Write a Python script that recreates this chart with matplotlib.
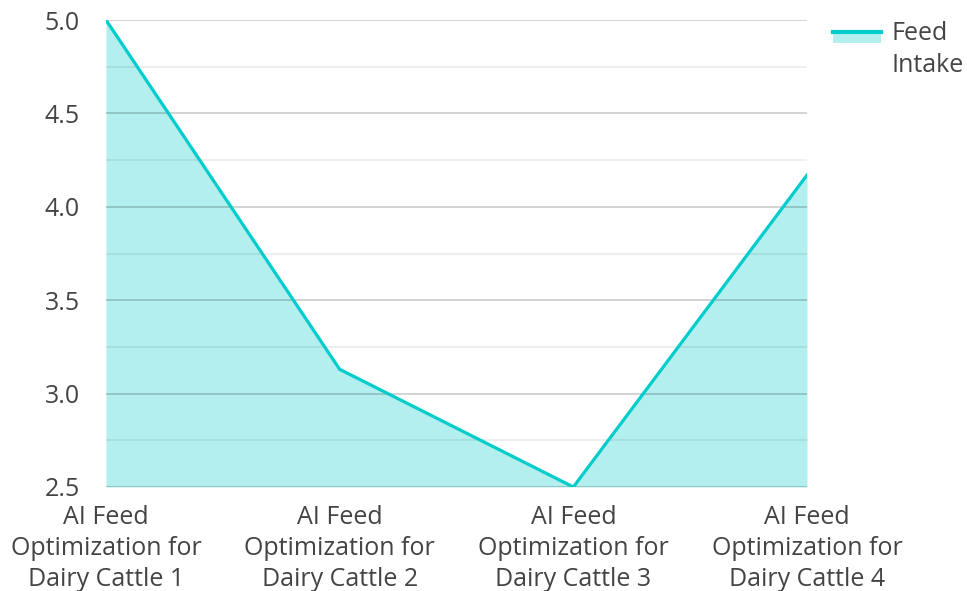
import matplotlib
matplotlib.use("Agg")
import matplotlib.pyplot as plt
from matplotlib.patches import Rectangle
from matplotlib.lines import Line2D

categories = ["AI Feed\nOptimization for\nDairy Cattle 1",
              "AI Feed\nOptimization for\nDairy Cattle 2",
              "AI Feed\nOptimization for\nDairy Cattle 3",
              "AI Feed\nOptimization for\nDairy Cattle 4"]
feed_intake = [5.0, 3.13, 2.5, 4.17]
series_name = "Feed\nIntake"
yticks = [2.5, 3.0, 3.5, 4.0, 4.5, 5.0]

plt.rcParams['font.family'] = ['Open Sans', 'DejaVu Sans']
line_color = "#00CCCC"
fill_color = "#b2efee"
text_color = "#444444"
W, H = 967, 591

fig = plt.figure(figsize=(W/100, H/100), dpi=100)
ax = fig.add_axes([106/W, 1 - 487/H, (807-106)/W, (487-20)/H])

x = list(range(len(categories)))
ax.fill_between(x, feed_intake, 2.5, color=fill_color, lw=0, zorder=1)
ax.plot(x, feed_intake, color=line_color, lw=2.3, zorder=3)

ax.set_xlim(0, len(categories) - 1)
ax.set_ylim(2.5, 5.0)
ax.set_yticks(yticks)
ax.set_yticklabels([f"{v:.1f}" for v in yticks])
ax.set_yticks([2.75, 3.25, 3.75, 4.25, 4.75], minor=True)
ax.set_xticks(x)
ax.set_xticklabels(categories, linespacing=1.32)

ax.grid(True, which='major', axis='y', color='#000000', alpha=0.2, lw=1.2, zorder=2)
ax.grid(True, which='minor', axis='y', color='#000000', alpha=0.08, lw=1.2, zorder=2)
ax.set_axisbelow(False)
for s in ax.spines.values():
    s.set_visible(False)
ax.tick_params(axis='both', which='both', length=0, labelsize=18, colors=text_color)
ax.tick_params(axis='y', pad=19)
ax.tick_params(axis='x', pad=13)

# legend
fig.add_artist(Rectangle((833/W, 1 - 43/H), 48/W, 12/H, transform=fig.transFigure,
                         facecolor=fill_color, edgecolor='none'))
fig.add_artist(Line2D([833/W, 881/W], [1 - 32/H, 1 - 32/H], transform=fig.transFigure,
                      color=line_color, lw=3))
fig.text(891/W, 1 - 33/H, series_name.split("\n")[0], fontsize=18, color=text_color,
         ha='left', va='center')
fig.text(891/W, 1 - 65/H, series_name.split("\n")[1], fontsize=18, color=text_color,
         ha='left', va='center')

fig.savefig("out.png", dpi=100)
